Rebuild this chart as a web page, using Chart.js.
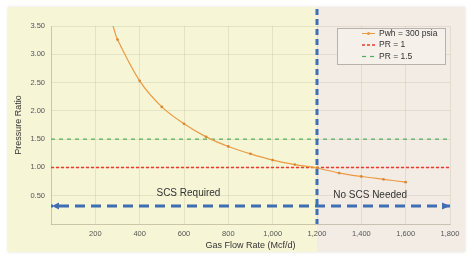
<!DOCTYPE html>
<html>
<head>
<meta charset="utf-8">
<script src="https://cdn.jsdelivr.net/npm/chart.js@4.4.1/dist/chart.umd.min.js"></script>
<style>
  html, body { margin: 0; padding: 0; background: #fff; }
  #wrap { width: 474px; height: 263px; }
</style>
</head>
<body>
<div id="wrap"><canvas id="prChart" width="474" height="263"></canvas></div>
<script>
// Pwh = 300 psia curve (first point has no marker, curve enters from top edge)
const flowRates = [280, 300, 400, 500, 600, 700, 800, 900, 1000, 1100, 1200, 1300, 1400, 1500, 1600];
const pwhRatio  = [3.50, 3.26, 2.53, 2.07, 1.77, 1.54, 1.37, 1.24, 1.13, 1.05, 0.99, 0.90, 0.84, 0.79, 0.74];

// reference lines
const prOneX = [0, 1800];
const prOneY = [1, 1];
const prOneHalfX = [0, 1800];
const prOneHalfY = [1.5, 1.5];

// blue arrow line and split
const arrowX = [0, 1800];
const arrowY = [0.32, 0.32];
const splitFlow = 1200;

const xTicks = [200, 400, 600, 800, 1000, 1200, 1400, 1600, 1800];
const yTicks = [0.5, 1.0, 1.5, 2.0, 2.5, 3.0, 3.5];

const legendItems = ['Pwh = 300 psia', 'PR = 1', 'PR = 1.5'];

const toPoints = (xs, ys) => xs.map((x, i) => ({ x: x, y: ys[i] }));

const FONT = "'Liberation Sans', Arial, sans-serif";

// panel backgrounds, split at 1,200 Mcf/d
const panelPlugin = {
    id: 'panelPlugin',
    beforeDraw(chart) {
        const ctx = chart.ctx;
        const sx = chart.scales.x.getPixelForValue(splitFlow);
        ctx.save();
        ctx.fillStyle = '#ffffff';
        ctx.fillRect(0, 0, chart.width, chart.height);
        ctx.shadowColor = 'rgba(0,0,0,0.12)';
        ctx.shadowBlur = 3;
        ctx.fillStyle = '#f6f5d6';
        ctx.fillRect(8, 7, 457, 245);
        ctx.shadowColor = 'transparent';
        ctx.fillStyle = '#f3ece4';
        ctx.fillRect(sx, 7, 465 - sx, 245);
        ctx.restore();
    }
};

const overlayPlugin = {
    id: 'overlayPlugin',
    afterDatasetsDraw(chart) {
        const ctx = chart.ctx;
        const xs = chart.scales.x, ys = chart.scales.y;
        const area = chart.chartArea;
        ctx.save();

        // arrowheads on the blue line
        const meta = chart.getDatasetMeta(3);
        const p0 = meta.data[0], p1 = meta.data[meta.data.length - 1];
        ctx.fillStyle = '#3f6fb3';
        ctx.beginPath();
        ctx.moveTo(p0.x + 1, p0.y);
        ctx.lineTo(p0.x + 8, p0.y - 3.5);
        ctx.lineTo(p0.x + 8, p0.y + 3.5);
        ctx.closePath();
        ctx.fill();
        ctx.beginPath();
        ctx.moveTo(p1.x, p1.y);
        ctx.lineTo(p1.x - 8, p1.y - 3.5);
        ctx.lineTo(p1.x - 8, p1.y + 3.5);
        ctx.closePath();
        ctx.fill();

        // vertical split line
        const sx = xs.getPixelForValue(splitFlow);
        ctx.strokeStyle = '#3f6fb3';
        ctx.lineWidth = 3;
        ctx.setLineDash([6, 4]);
        ctx.beginPath();
        ctx.moveTo(sx, 9);
        ctx.lineTo(sx, area.bottom);
        ctx.stroke();
        ctx.setLineDash([]);

        // region labels
        ctx.fillStyle = '#333333';
        ctx.font = '10px ' + FONT;
        ctx.textAlign = 'center';
        ctx.textBaseline = 'middle';
        ctx.fillText('SCS Required', xs.getPixelForValue(620), ys.getPixelForValue(0.54));
        ctx.fillText('No SCS Needed', xs.getPixelForValue(1440), ys.getPixelForValue(0.50));

        // legend box
        const bx = 337, by = 28, bw = 108, bh = 36;
        ctx.fillStyle = '#f5f0ea';
        ctx.strokeStyle = '#b8b2ac';
        ctx.lineWidth = 1;
        ctx.fillRect(bx, by, bw, bh);
        ctx.strokeRect(bx + 0.5, by + 0.5, bw, bh);

        const rows = [33.5, 45, 56.5];
        const styles = [
            { color: '#ec9a43', dash: [], width: 1 },
            { color: '#ea3a30', dash: [3, 2], width: 1.4 },
            { color: '#4cae55', dash: [4, 4], width: 1.2 }
        ];
        ctx.font = '8.5px ' + FONT;
        ctx.textAlign = 'left';
        legendItems.forEach((label, i) => {
            const s = styles[i];
            ctx.strokeStyle = s.color;
            ctx.lineWidth = s.width;
            ctx.setLineDash(s.dash);
            ctx.beginPath();
            ctx.moveTo(362, rows[i]);
            ctx.lineTo(375, rows[i]);
            ctx.stroke();
            if (i === 0) {
                ctx.fillStyle = s.color;
                ctx.beginPath();
                ctx.arc(368.5, rows[i], 1.5, 0, Math.PI * 2);
                ctx.fill();
            }
            ctx.fillStyle = '#333333';
            ctx.fillText(label, 379, rows[i]);
        });
        ctx.setLineDash([]);
        ctx.restore();
    }
};

new Chart(document.getElementById('prChart'), {
    type: 'line',
    data: {
        datasets: [
            {
                label: legendItems[0],
                data: toPoints(flowRates, pwhRatio),
                borderColor: '#ec9a43',
                backgroundColor: '#d98a38',
                borderWidth: 1.2,
                pointRadius: flowRates.map((x, i) => i === 0 ? 0 : 1.4),
                pointBorderWidth: 0,
                tension: 0.3,
                order: 1
            },
            {
                label: legendItems[1],
                data: toPoints(prOneX, prOneY),
                borderColor: '#ea3a30',
                borderWidth: 1.4,
                borderDash: [3, 2],
                pointRadius: 0,
                order: 3
            },
            {
                label: legendItems[2],
                data: toPoints(prOneHalfX, prOneHalfY),
                borderColor: '#4cae55',
                borderWidth: 1.2,
                borderDash: [4, 4],
                pointRadius: 0,
                order: 3
            },
            {
                label: 'arrow',
                data: toPoints(arrowX, arrowY),
                borderColor: '#3f6fb3',
                borderWidth: 3,
                borderDash: [10, 6],
                borderDashOffset: -8,
                pointRadius: 0,
                order: 2
            }
        ]
    },
    options: {
        responsive: false,
        animation: false,
        layout: { padding: { top: 26, right: 24, left: 13, bottom: 12 } },
        plugins: {
            legend: { display: false },
            tooltip: { enabled: false }
        },
        scales: {
            x: {
                type: 'linear',
                min: 0,
                max: 1800,
                afterFit(scale) { scale.height = 27; },
                afterBuildTicks(scale) { scale.ticks = [0].concat(xTicks).map(v => ({ value: v })); },
                grid: { color: 'rgba(120,110,80,0.13)', drawTicks: false },
                border: { color: 'rgba(120,110,80,0.25)' },
                ticks: {
                    padding: 5,
                    color: '#555555',
                    font: { family: FONT, size: 7.5 },
                    callback: v => v === 0 ? '' : v.toLocaleString('en-US')
                },
                title: {
                    display: true,
                    text: 'Gas Flow Rate (Mcf/d)',
                    color: '#333333',
                    padding: 0,
                    font: { family: FONT, size: 9 }
                }
            },
            y: {
                min: 0,
                max: 3.5,
                afterFit(scale) { scale.width = 38; },
                afterBuildTicks(scale) { scale.ticks = [0].concat(yTicks).map(v => ({ value: v })); },
                grid: { color: 'rgba(120,110,80,0.13)', drawTicks: false },
                border: { color: 'rgba(120,110,80,0.25)' },
                ticks: {
                    padding: 6,
                    color: '#555555',
                    font: { family: FONT, size: 7.5 },
                    callback: v => v === 0 ? '' : Number(v).toFixed(2)
                },
                title: {
                    display: true,
                    text: 'Pressure Ratio',
                    color: '#333333',
                    padding: 0,
                    font: { family: FONT, size: 9 }
                }
            }
        }
    },
    plugins: [panelPlugin, overlayPlugin]
});
</script>
</body>
</html>
